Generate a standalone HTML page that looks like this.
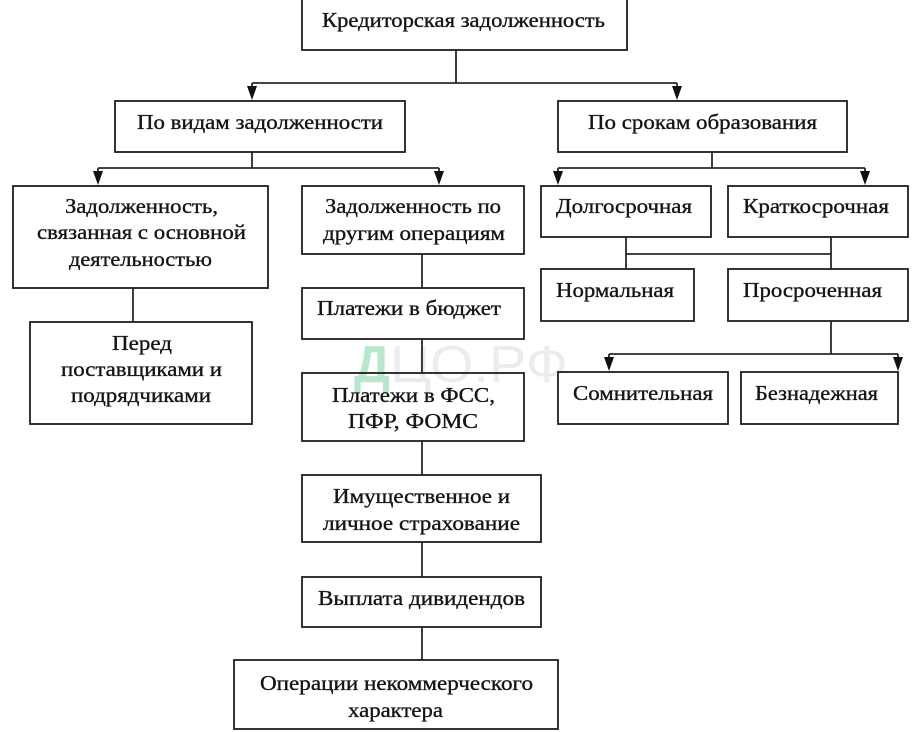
<!DOCTYPE html>
<html>
<head>
<meta charset="utf-8">
<style>
html,body{margin:0;padding:0;background:#fff;}
svg{display:block;}
text{font-family:"Liberation Serif","Noto Serif CJK SC",serif;font-size:21px;fill:#141414;}
.lbl text{stroke:#141414;stroke-width:0.35;}
.wm{font-family:"Liberation Sans",sans-serif;font-size:52px;}
</style>
</head>
<body>
<svg width="914" height="732" viewBox="0 0 914 732" xmlns="http://www.w3.org/2000/svg">
<rect x="0" y="0" width="914" height="732" fill="#fff"/>

<!-- watermark -->
<text class="wm" x="354" y="382" style="fill:#b9e7cb;font-weight:bold;" textLength="36" lengthAdjust="spacingAndGlyphs">Д</text>
<text class="wm" x="390" y="382" style="fill:#ececec;" textLength="178" lengthAdjust="spacingAndGlyphs">ЦО.РФ</text>

<g fill="none" stroke="#2a2a2a" stroke-width="1.8">
<path d="M456 50 V83 M252 83 H677 M252 83 V90 M677 83 V90"/>
<path d="M252 152 V168 M98 168 H439 M98 168 V174 M439 168 V174"/>
<path d="M712 152 V168 M558 168 H865 M558 168 V174 M865 168 V174"/>
<path d="M626 237 V269 M831 237 V269 M626 254 H831"/>
<path d="M831 321 V354 M609 354 H898 M609 354 V360 M898 354 V360"/>
<path d="M133 288 V322"/>
<path d="M422 254 V288 M422 339 V373 M422 441 V475 M422 542 V577 M422 627 V660"/>
</g>
<g fill="#111">
<polygon points="247,86 257,86 252,100"/>
<polygon points="672,86 682,86 677,100"/>
<polygon points="93,171 103,171 98,185"/>
<polygon points="434,171 444,171 439,185"/>
<polygon points="553,171 563,171 558,185"/>
<polygon points="860,171 870,171 865,185"/>
<polygon points="604,357 614,357 609,371"/>
<polygon points="893,357 903,357 898,371"/>
</g>

<g fill="none" stroke="#1e1e1e" stroke-width="1.8">
<rect x="302" y="-5" width="325" height="55"/>
<rect x="115" y="101" width="290" height="51"/>
<rect x="558" y="101" width="289" height="51"/>
<rect x="13" y="186" width="255" height="102"/>
<rect x="302" y="186" width="222" height="68"/>
<rect x="541" y="186" width="170" height="51"/>
<rect x="728" y="186" width="180" height="51"/>
<rect x="541" y="269" width="153" height="52"/>
<rect x="728" y="269" width="180" height="52"/>
<rect x="30" y="322" width="222" height="102"/>
<rect x="302" y="288" width="222" height="51"/>
<rect x="302" y="373" width="222" height="68"/>
<rect x="302" y="475" width="239" height="67"/>
<rect x="558" y="372" width="170" height="52"/>
<rect x="741" y="372" width="157" height="52"/>
<rect x="302" y="577" width="239" height="50"/>
<rect x="234" y="660" width="324" height="69"/>
</g>

<g class="lbl" text-anchor="middle">
<text x="463.5" y="27" textLength="283" lengthAdjust="spacingAndGlyphs">Кредиторская задолженность</text>
<text x="260" y="129" textLength="246" lengthAdjust="spacingAndGlyphs">По видам задолженности</text>
<text x="702.5" y="129" textLength="229" lengthAdjust="spacingAndGlyphs">По срокам образования</text>

<text x="141.5" y="213" textLength="153" lengthAdjust="spacingAndGlyphs">Задолженность,</text>
<text x="141.5" y="239" textLength="209" lengthAdjust="spacingAndGlyphs">связанная с основной</text>
<text x="140.5" y="266" textLength="143" lengthAdjust="spacingAndGlyphs">деятельностью</text>

<text x="413" y="213" textLength="176" lengthAdjust="spacingAndGlyphs">Задолженность по</text>
<text x="414" y="240" textLength="182" lengthAdjust="spacingAndGlyphs">другим операциям</text>

<text x="624" y="213" textLength="136" lengthAdjust="spacingAndGlyphs">Долгосрочная</text>
<text x="816" y="213" textLength="146" lengthAdjust="spacingAndGlyphs">Краткосрочная</text>
<text x="615" y="297" textLength="118" lengthAdjust="spacingAndGlyphs">Нормальная</text>
<text x="812.5" y="297" textLength="139" lengthAdjust="spacingAndGlyphs">Просроченная</text>
<text x="643" y="400" textLength="140" lengthAdjust="spacingAndGlyphs">Сомнительная</text>
<text x="816.5" y="400" textLength="123" lengthAdjust="spacingAndGlyphs">Безнадежная</text>

<text x="142" y="350" textLength="60" lengthAdjust="spacingAndGlyphs">Перед</text>
<text x="141.5" y="376" textLength="161" lengthAdjust="spacingAndGlyphs">поставщиками и</text>
<text x="141" y="402" textLength="140" lengthAdjust="spacingAndGlyphs">подрядчиками</text>

<text x="409" y="315" textLength="184" lengthAdjust="spacingAndGlyphs">Платежи в бюджет</text>
<text x="413.5" y="402" textLength="163" lengthAdjust="spacingAndGlyphs">Платежи в ФСС,</text>
<text x="413" y="428" textLength="130" lengthAdjust="spacingAndGlyphs">ПФР, ФОМС</text>
<text x="421.5" y="503" textLength="177" lengthAdjust="spacingAndGlyphs">Имущественное и</text>
<text x="421.5" y="530" textLength="197" lengthAdjust="spacingAndGlyphs">личное страхование</text>
<text x="421.5" y="605" textLength="207" lengthAdjust="spacingAndGlyphs">Выплата дивидендов</text>
<text x="396.5" y="690" textLength="273" lengthAdjust="spacingAndGlyphs">Операции некоммерческого</text>
<text x="395.5" y="717" textLength="95" lengthAdjust="spacingAndGlyphs">характера</text>
</g>
</svg>
</body>
</html>
